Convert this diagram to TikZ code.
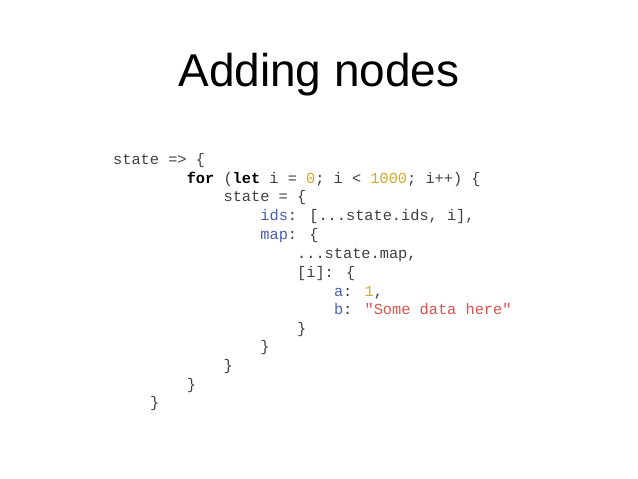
\documentclass[tikz,border=0pt]{standalone}
\usepackage{fontspec}
\setmainfont{Liberation Sans}
\newfontfamily\codefont{Liberation Mono}
\definecolor{cgray}{HTML}{404040}
\definecolor{cblue}{HTML}{4A60B0}
\definecolor{cyel}{HTML}{D4A830}
\definecolor{cred}{HTML}{D9534F}
\begin{document}
\begin{tikzpicture}[x=1pt,y=1pt,
  code/.style={anchor=base west,inner sep=0pt,font=\codefont\fontsize{15.3}{18}\selectfont,text=cgray},
  titlestyle/.style={inner sep=0pt,font=\fontsize{46}{50}\selectfont,text=black,anchor=base}]
\useasboundingbox (0,0) rectangle (638,479);
\fill[white] (0,0) rectangle (638,479);
\node[titlestyle] (title) at (319,392) {Adding nodes};
\def\cw{9.2}
\newcommand{\cl}[4]{\node[code] (#1) at ({113+\cw*#2},{479-#3-5}) {#4};}
\cl{l1}{0}{160}{state => \{}
\cl{l2}{8}{179}{\textcolor{black}{\textbf{for}} (\textcolor{black}{\textbf{let}} i = \textcolor{cyel}{0}; i < \textcolor{cyel}{1000}; i++) \{}
\cl{l3}{12}{197}{state = \{}
\cl{l4}{16}{216}{\textcolor{cblue}{ids}: [...state.ids, i],}
\cl{l5}{16}{235}{\textcolor{cblue}{map}: \{}
\cl{l6}{20}{254}{...state.map,}
\cl{l7}{20}{273}{[i]: \{}
\cl{l8}{24}{292}{\textcolor{cblue}{a}: \textcolor{cyel}{1},}
\cl{l9}{24}{310}{\textcolor{cblue}{b}: \textcolor{cred}{"Some data here"}}
\cl{l10}{20}{329}{\}}
\cl{l11}{16}{347}{\}}
\cl{l12}{12}{366}{\}}
\cl{l13}{8}{385}{\}}
\cl{l14}{4}{403}{\}}
\end{tikzpicture}
\end{document}
